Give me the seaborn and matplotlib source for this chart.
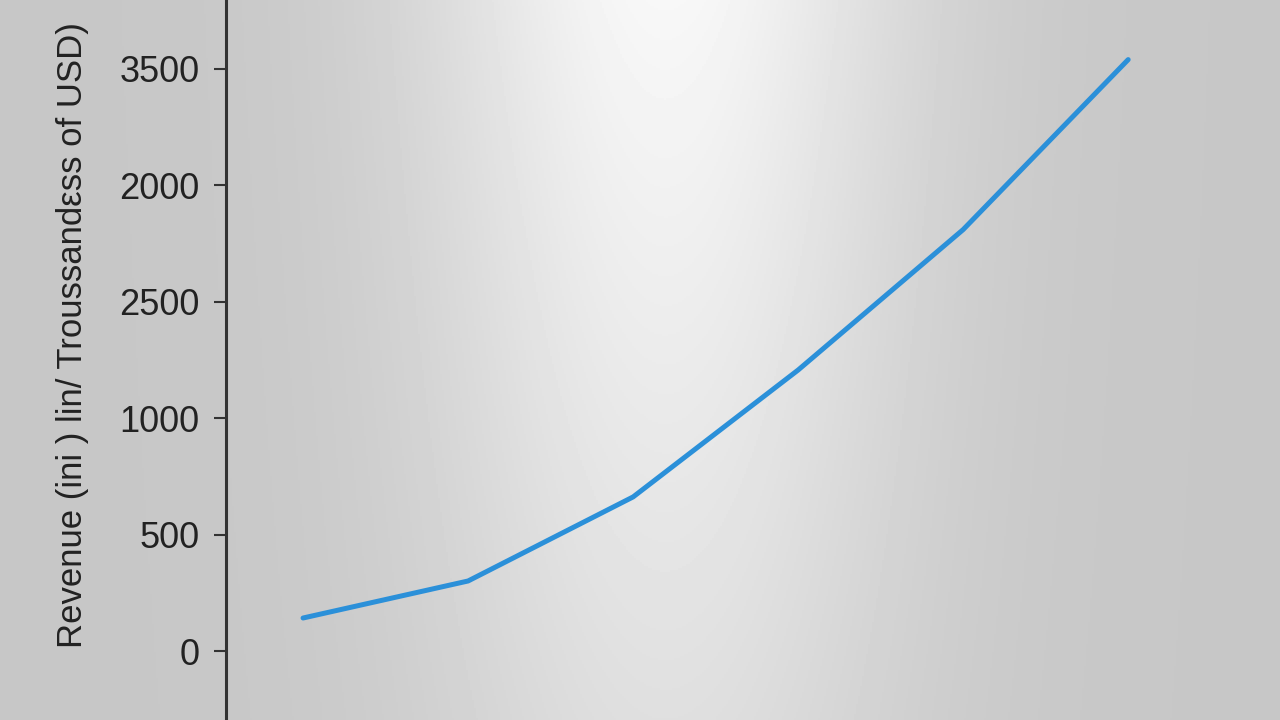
import numpy as np
import pandas as pd
import matplotlib
matplotlib.use("Agg")
import matplotlib.pyplot as plt
import seaborn as sns

# valores
period = [0, 1, 2, 3, 4, 5]
revenue = [142, 301, 662, 1207, 1810, 2540]
tick_pos = [0, 500, 1000, 1500, 2000, 2500]
tick_labels = ["0", "500", "1000", "2500", "2000", "3500"]
ylabel = "Revenue (ini ) lin/ Troussandεss of USD)"

df = pd.DataFrame({"period": period, "revenue": revenue})

sns.set_theme(style="white")
plt.rcParams["font.family"] = ["Liberation Sans", "DejaVu Sans"]

fig = plt.figure(figsize=(12.8, 7.2), dpi=100)

# fundo em degradê cinza
bg = fig.add_axes([0, 0, 1, 1])
xx, yy = np.meshgrid(np.linspace(0, 1, 640), np.linspace(0, 1, 360))
glow = np.exp(-((xx - 0.52) / 0.19) ** 2) * (1 - 0.5 * yy)
shade = 0.78 + 0.19 * glow
bg.imshow(shade, cmap="gray", vmin=0, vmax=1, aspect="auto", extent=[0, 1, 0, 1], origin="upper")
bg.axis("off")

ax = fig.add_axes([226 / 1280, 0, 1 - 226 / 1280, 1])
ax.patch.set_alpha(0)
sns.lineplot(data=df, x="period", y="revenue", ax=ax, color="#2b90d9", linewidth=3.6)

ax.set_xlim(-0.467, 5.92)
ax.set_ylim(-296, 2796)
ax.set_yticks(tick_pos)
ax.set_yticklabels(tick_labels, fontsize=26, color="#222222")
ax.tick_params(axis="y", left=True, length=9, width=1.5, color="#333333", pad=10)
ax.set_xticks([])
ax.set_xlabel("")
ax.set_ylabel(ylabel, fontsize=25, color="#222222")
ax.yaxis.set_label_coords(-0.13, 0.535)

for side in ["top", "right", "bottom"]:
    ax.spines[side].set_visible(False)
ax.spines["left"].set_color("#333333")
ax.spines["left"].set_linewidth(2.2)

fig.savefig("out.png", dpi=100)
